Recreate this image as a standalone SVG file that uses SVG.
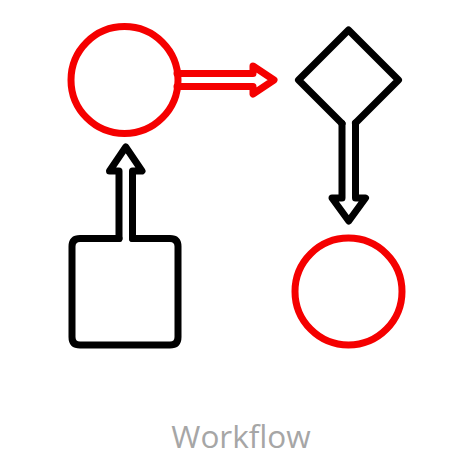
<svg xmlns="http://www.w3.org/2000/svg" width="474" height="474" viewBox="0 0 474 474">
<style>
.s{fill:none;stroke-width:7;stroke-linejoin:round;stroke-linecap:round}
.k{stroke:#000}
.r{stroke:#f50000}
.t{font-family:"Open Sans","Liberation Sans",sans-serif;font-size:31.5px;fill:#a6a6a6}
</style>
<rect width="474" height="474" fill="#fff"/>
<g id="start-circle"><circle class="s r" cx="124.5" cy="80" r="53.5"/></g>
<g id="decision"><path class="s k" d="M342,123.5 L298.5,80 L348.5,30 L398.5,80 L355.5,123"/></g>
<g id="process"><path class="s k" d="M132.5,238.5 H170 Q178,238.5 178,246.5 V337 Q178,345 170,345 H80 Q72,345 72,337 V246.5 Q72,238.5 80,238.5 H119"/></g>
<g id="end-circle"><circle class="s r" cx="348.5" cy="291.5" r="53.5"/></g>
<g id="connectors">
<path class="s r" d="M177,73.5 H253 V66 L274,80 L253,94 V86.5 H177"/>
<path class="s k" d="M342,123.5 V198 H332 L348.75,221 L365.5,198 H355.5 V123"/>
<path class="s k" d="M119,238.5 V171 H109.5 L125.75,147 L142,171 H132.5 V238.5"/>
</g>
<text class="t" x="241" y="448" text-anchor="middle">Workflow</text>
</svg>
